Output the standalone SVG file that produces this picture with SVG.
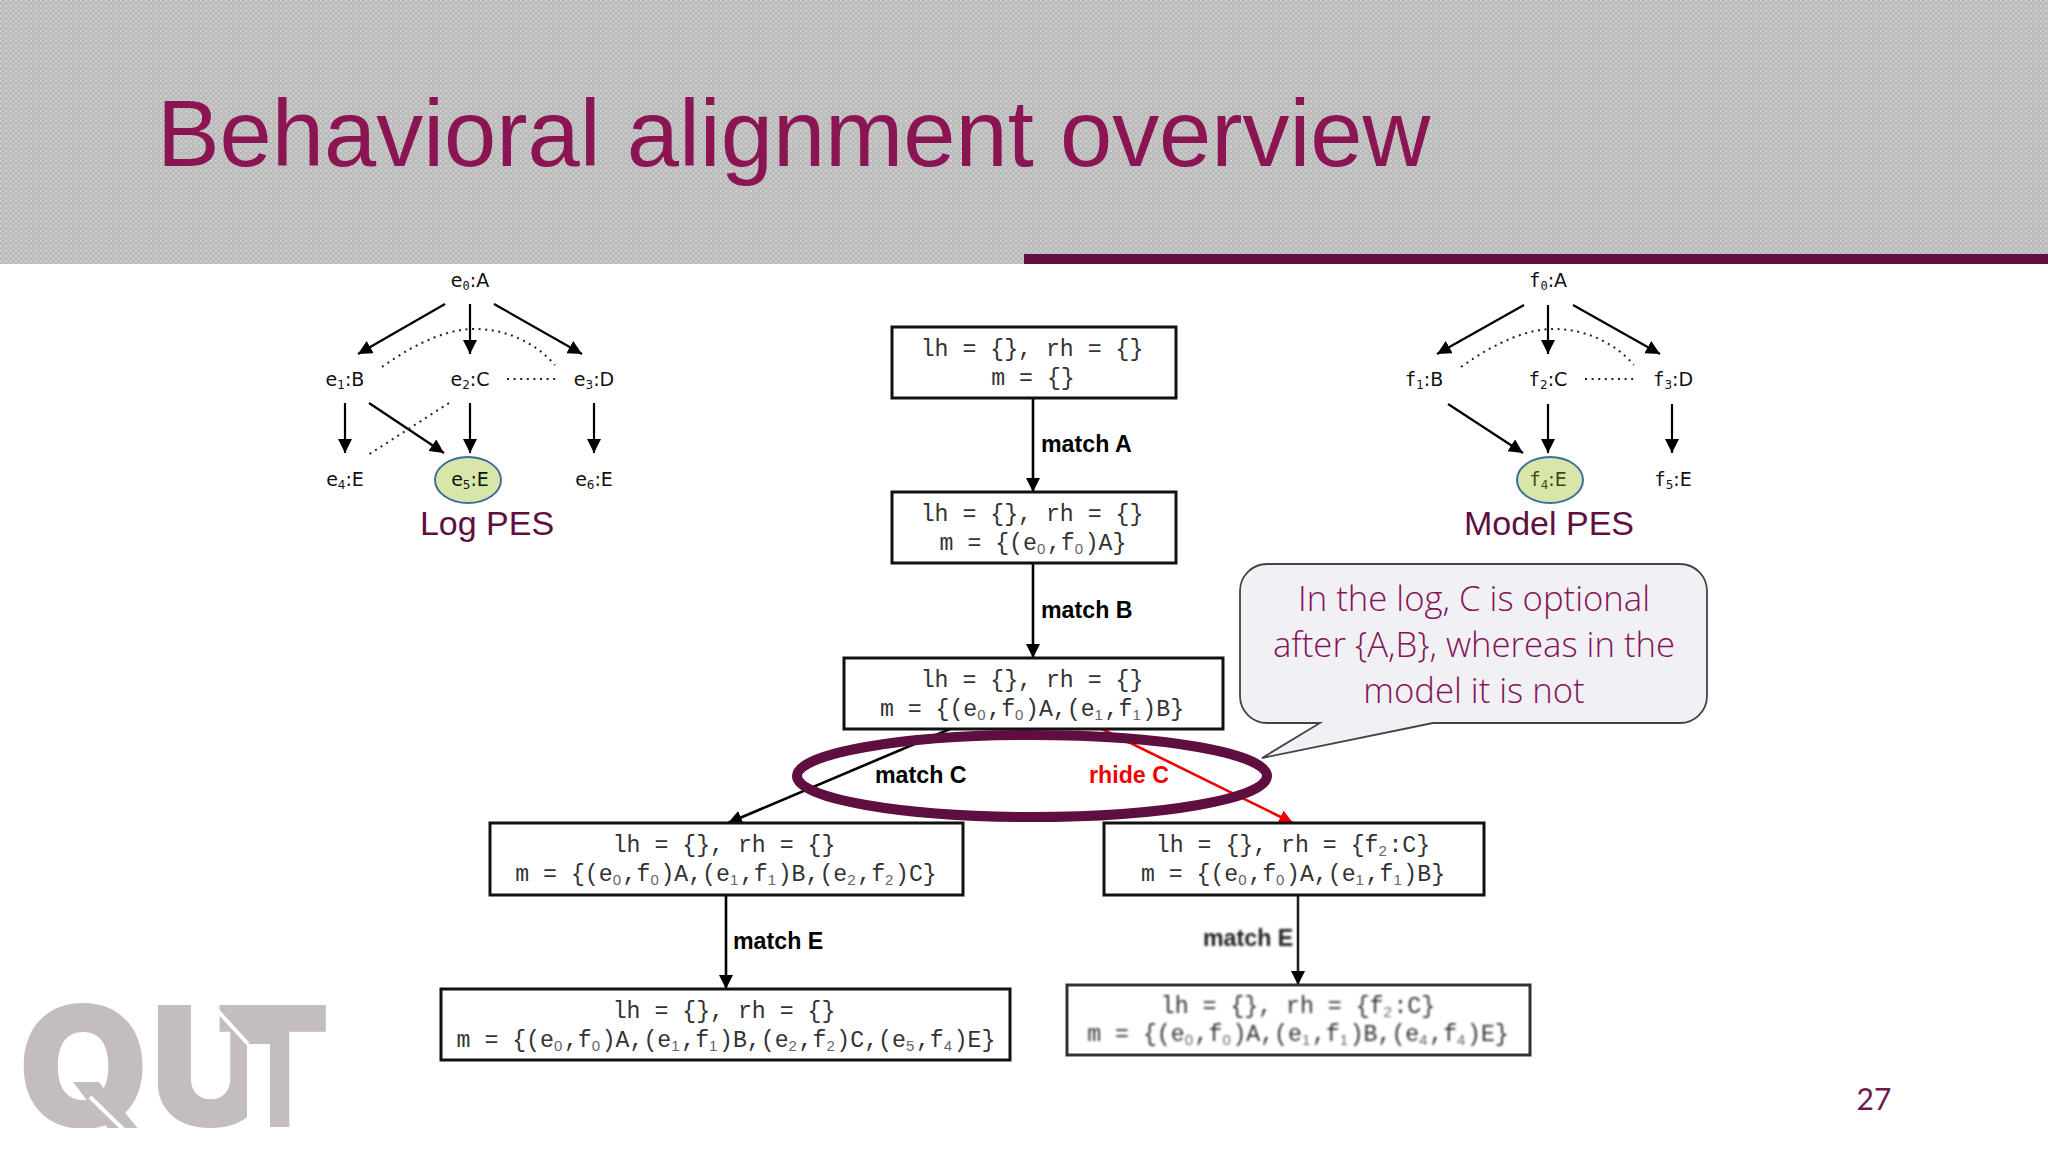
<svg xmlns="http://www.w3.org/2000/svg" width="2048" height="1152" viewBox="0 0 2048 1152">
<style>
.box{fill:#fff;stroke:#111;stroke-width:3}
.mono{font-family:"Liberation Mono",monospace;font-size:23.2px;fill:#333;text-anchor:middle}
.s{font-family:"Liberation Sans",sans-serif;font-size:15px;fill:#666;letter-spacing:1.6px}
.lb{font-family:"Liberation Sans",Arial,sans-serif;font-weight:700;font-size:23.2px;fill:#000}
.pes{font-family:"DejaVu Sans",sans-serif;font-size:19px;fill:#111;text-anchor:middle}
.pes .m{font-family:"DejaVu Sans Mono",monospace}
.pes .u{font-size:12px}
.cap{font-family:"Liberation Sans",Arial,sans-serif;font-size:34px;fill:#5e0f3f;text-anchor:middle}
.call{font-family:"Open Sans",sans-serif;font-weight:300;font-size:34.7px;fill:#84145a;text-anchor:middle}
.a{fill:none;stroke:#000;stroke-width:2.2;marker-end:url(#ah)}
.b{fill:none;stroke:#000;stroke-width:2.6;marker-end:url(#ah)}
.d{fill:none;stroke:#222;stroke-width:2;stroke-dasharray:2 4.6}
.el{fill:#d9e6a9;stroke:#3d6f9e;stroke-width:2}
</style>
<defs>
<pattern id="dots" width="5" height="5" patternUnits="userSpaceOnUse">
<rect width="5" height="5" fill="#bababa"/>
<rect x="0" y="0" width="2" height="2" fill="#d2d2d2"/>
<rect x="2.5" y="2.5" width="2" height="2" fill="#cbcbcb"/>
</pattern>
<marker id="ah" markerUnits="userSpaceOnUse" markerWidth="16" markerHeight="16" refX="14" refY="7" orient="auto">
<path d="M0 0L14 7L0 14Z" fill="#000"/>
</marker>
<marker id="ar" markerUnits="userSpaceOnUse" markerWidth="16" markerHeight="16" refX="14" refY="7" orient="auto">
<path d="M0 0L14 7L0 14Z" fill="#f00000"/>
</marker>
<filter id="bl" x="-5%" y="-10%" width="110%" height="120%"><feGaussianBlur stdDeviation="0.8"/></filter>
</defs>
<rect width="2048" height="1152" fill="#fff"/>
<g id="header">
<rect width="2048" height="264" fill="url(#dots)"/>
<rect x="1024" y="254" width="1024" height="10" fill="#5e0f3f"/>
<text x="157" y="166" font-family="Liberation Sans, Arial, sans-serif" font-size="93.9" fill="#8a1552">Behavioral alignment overview</text>
</g>
<g id="qut-logo">
<text x="18 150 215" y="1127" font-family="Inter, sans-serif" font-weight="900" font-size="168" fill="#c3bcc0">QUT</text>
<rect x="20" y="1128" width="130" height="24" fill="#fff"/>
<rect x="247" y="1044" width="23" height="90" fill="#fff"/>
<path d="M90 1097L124 1130M216 1009L248 1044" fill="none" stroke="#fff" stroke-width="4"/>
</g>
<g id="connectors">
<path class="a" d="M445 304L358 354"/><path class="a" d="M470 304V354"/><path class="a" d="M494 304L582 354"/>
<path class="a" d="M345 403V453"/><path class="a" d="M369 403L444 453"/><path class="a" d="M470 403V453"/><path class="a" d="M594 403V453"/>
<path class="d" d="M382 367C420 340 450 329 475 329C505 329 535 342 555 365"/><path class="d" d="M507 379H558"/><path class="d" d="M449 403L368 455"/>
<path class="a" d="M1524 305L1437 354"/><path class="a" d="M1548 305V354"/><path class="a" d="M1573 305L1660 354"/>
<path class="a" d="M1448 404L1523 453"/><path class="a" d="M1548 404V453"/><path class="a" d="M1672 404V453"/>
<path class="d" d="M1461 367C1499 340 1529 329 1554 329C1584 329 1614 342 1634 365"/><path class="d" d="M1585 379H1636"/>
<path class="b" d="M1033 398V492"/><path class="b" d="M1033 563V658"/>
<path class="b" d="M950 729L728 823"/>
<path d="M1102 729L1293 823" fill="none" stroke="#f00000" stroke-width="2.6" marker-end="url(#ar)"/>
<path class="b" d="M726 895V989"/><path d="M1298 895V985" fill="none" stroke="#222" stroke-width="2.6" marker-end="url(#ah)"/>
</g>
<g id="log-pes">
<ellipse class="el" cx="468" cy="480" rx="33" ry="23"/>
<text class="pes" x="470" y="287">e<tspan class="m u" dy="3">0</tspan><tspan dy="-3">:A</tspan></text>
<text class="pes" x="345" y="386">e<tspan class="u" dy="3">1</tspan><tspan dy="-3">:B</tspan></text>
<text class="pes" x="470" y="386">e<tspan class="u" dy="3">2</tspan><tspan dy="-3">:C</tspan></text>
<text class="pes" x="594" y="386">e<tspan class="u" dy="3">3</tspan><tspan dy="-3">:D</tspan></text>
<text class="pes" x="345" y="486">e<tspan class="u" dy="3">4</tspan><tspan dy="-3">:E</tspan></text>
<text class="pes" x="470" y="486">e<tspan class="u" dy="3">5</tspan><tspan dy="-3">:E</tspan></text>
<text class="pes" x="594" y="486">e<tspan class="u" dy="3">6</tspan><tspan dy="-3">:E</tspan></text>
<text class="cap" x="487" y="535">Log PES</text>
</g>
<g id="model-pes">
<ellipse class="el" cx="1550" cy="480" rx="33" ry="23"/>
<text class="pes" x="1548" y="287"><tspan class="m">f</tspan><tspan class="m u" dy="3">0</tspan><tspan dy="-3">:A</tspan></text>
<text class="pes" x="1424" y="386"><tspan class="m">f</tspan><tspan class="u" dy="3">1</tspan><tspan dy="-3">:B</tspan></text>
<text class="pes" x="1548" y="386"><tspan class="m">f</tspan><tspan class="u" dy="3">2</tspan><tspan dy="-3">:C</tspan></text>
<text class="pes" x="1673" y="386"><tspan class="m">f</tspan><tspan class="u" dy="3">3</tspan><tspan dy="-3">:D</tspan></text>
<text class="pes" x="1548" y="486" style="fill:#3c4a12"><tspan class="m">f</tspan><tspan class="u" dy="3">4</tspan><tspan dy="-3">:E</tspan></text>
<text class="pes" x="1673" y="486"><tspan class="m">f</tspan><tspan class="u" dy="3">5</tspan><tspan dy="-3">:E</tspan></text>
<text class="cap" x="1549" y="535">Model PES</text>
</g>
<g id="state-1">
<rect class="box" x="892" y="327" width="284" height="71"/>
<text class="mono" x="1032" y="356">lh = {}, rh = {}</text>
<text class="mono" x="1033" y="385">m = {}</text>
</g>
<g id="state-2">
<rect class="box" x="892" y="492" width="284" height="71"/>
<text class="mono" x="1032" y="521">lh = {}, rh = {}</text>
<text class="mono" x="1033" y="550">m = {(e<tspan class="s" dy="4">0</tspan><tspan dy="-4">,f</tspan><tspan class="s" dy="4">0</tspan><tspan dy="-4">)A}</tspan></text>
</g>
<g id="state-3">
<rect class="box" x="844" y="658" width="379" height="71"/>
<text class="mono" x="1032" y="687">lh = {}, rh = {}</text>
<text class="mono" x="1032" y="716">m = {(e<tspan class="s" dy="4">0</tspan><tspan dy="-4">,f</tspan><tspan class="s" dy="4">0</tspan><tspan dy="-4">)A,(e</tspan><tspan class="s" dy="4">1</tspan><tspan dy="-4">,f</tspan><tspan class="s" dy="4">1</tspan><tspan dy="-4">)B}</tspan></text>
</g>
<g id="state-4">
<rect class="box" x="490" y="823" width="473" height="72"/>
<text class="mono" x="724" y="852">lh = {}, rh = {}</text>
<text class="mono" x="726" y="881">m = {(e<tspan class="s" dy="4">0</tspan><tspan dy="-4">,f</tspan><tspan class="s" dy="4">0</tspan><tspan dy="-4">)A,(e</tspan><tspan class="s" dy="4">1</tspan><tspan dy="-4">,f</tspan><tspan class="s" dy="4">1</tspan><tspan dy="-4">)B,(e</tspan><tspan class="s" dy="4">2</tspan><tspan dy="-4">,f</tspan><tspan class="s" dy="4">2</tspan><tspan dy="-4">)C}</tspan></text>
</g>
<g id="state-5">
<rect class="box" x="1104" y="823" width="380" height="72"/>
<text class="mono" x="1293" y="852">lh = {}, rh = {f<tspan class="s" dy="4">2</tspan><tspan dy="-4">:C}</tspan></text>
<text class="mono" x="1293" y="881">m = {(e<tspan class="s" dy="4">0</tspan><tspan dy="-4">,f</tspan><tspan class="s" dy="4">0</tspan><tspan dy="-4">)A,(e</tspan><tspan class="s" dy="4">1</tspan><tspan dy="-4">,f</tspan><tspan class="s" dy="4">1</tspan><tspan dy="-4">)B}</tspan></text>
</g>
<g id="state-6">
<rect class="box" x="441" y="989" width="569" height="71"/>
<text class="mono" x="724" y="1018">lh = {}, rh = {}</text>
<text class="mono" x="726" y="1047">m = {(e<tspan class="s" dy="4">0</tspan><tspan dy="-4">,f</tspan><tspan class="s" dy="4">0</tspan><tspan dy="-4">)A,(e</tspan><tspan class="s" dy="4">1</tspan><tspan dy="-4">,f</tspan><tspan class="s" dy="4">1</tspan><tspan dy="-4">)B,(e</tspan><tspan class="s" dy="4">2</tspan><tspan dy="-4">,f</tspan><tspan class="s" dy="4">2</tspan><tspan dy="-4">)C,(e</tspan><tspan class="s" dy="4">5</tspan><tspan dy="-4">,f</tspan><tspan class="s" dy="4">4</tspan><tspan dy="-4">)E}</tspan></text>
</g>
<g id="state-7">
<rect class="box" x="1067" y="985" width="463" height="70" style="stroke:#333"/>
<g filter="url(#bl)">
<text class="mono" x="1298" y="1013">lh = {}, rh = {f<tspan class="s" dy="4">2</tspan><tspan dy="-4">:C}</tspan></text>
<text class="mono" x="1298" y="1041">m = {(e<tspan class="s" dy="4">0</tspan><tspan dy="-4">,f</tspan><tspan class="s" dy="4">0</tspan><tspan dy="-4">)A,(e</tspan><tspan class="s" dy="4">1</tspan><tspan dy="-4">,f</tspan><tspan class="s" dy="4">1</tspan><tspan dy="-4">)B,(e</tspan><tspan class="s" dy="4">4</tspan><tspan dy="-4">,f</tspan><tspan class="s" dy="4">4</tspan><tspan dy="-4">)E}</tspan></text>
</g>
</g>
<g id="edge-labels">
<text class="lb" x="1041" y="452">match A</text>
<text class="lb" x="1041" y="618">match B</text>
<text class="lb" x="875" y="783">match C</text>
<text class="lb" x="1089" y="783" style="fill:#f00000">rhide C</text>
<text class="lb" x="733" y="949">match E</text>
<text class="lb" x="1203" y="946" style="fill:#222" filter="url(#bl)">match E</text>
</g>
<g id="highlight">
<ellipse cx="1032" cy="776" rx="235" ry="41" fill="none" stroke="#5e0f3f" stroke-width="10"/>
</g>
<g id="callout">
<path d="M1267 564H1680A27 27 0 0 1 1707 591V696A27 27 0 0 1 1680 723H1433L1262 758L1320 723H1267A27 27 0 0 1 1240 696V591A27 27 0 0 1 1267 564Z" fill="#f1f0f4" stroke="#444" stroke-width="1.8"/>
<text class="call" x="1474" y="611">In the log, C is optional</text>
<text class="call" x="1474" y="657">after {A,B}, whereas in the</text>
<text class="call" x="1474" y="703">model it is not</text>
</g>
<text x="1874" y="1110" font-family="Lato, sans-serif" font-size="30" fill="#6a1a50" text-anchor="middle">27</text>
</svg>
